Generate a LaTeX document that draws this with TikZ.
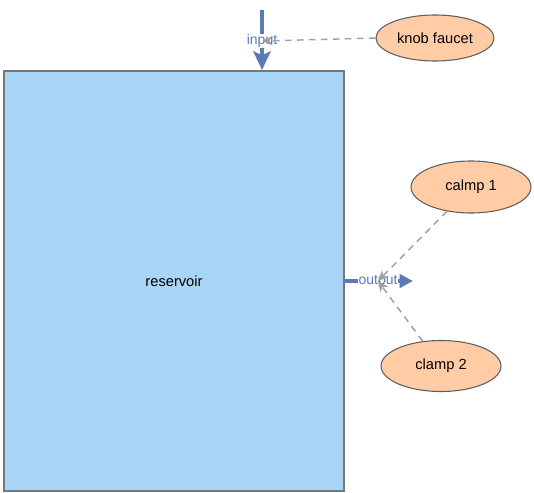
\documentclass[tikz,border=0pt]{standalone}
\usepackage{fontspec}
\setmainfont{Liberation Sans}
\usetikzlibrary{shapes.geometric,arrows.meta}
\definecolor{resfill}{HTML}{A8D4F5}
\definecolor{edgegray}{HTML}{777777}
\definecolor{portblue}{HTML}{5A7AB8}
\definecolor{peach}{HTML}{FFCCA6}
\definecolor{dashgray}{HTML}{A0A0A0}
\tikzset{
  tank/.style={draw=edgegray,line width=1.5pt,fill=resfill,inner sep=0pt},
  actor/.style={ellipse,draw=edgegray!80!black,line width=0.8pt,fill=peach,inner sep=0pt,font=\fontsize{11}{13}\selectfont},
  port/.style={text=portblue,font=\fontsize{10.5}{12}\selectfont,inner sep=0.5pt},
  flow/.style={draw=portblue,line width=3pt,-{Stealth[length=14pt,width=13pt,inset=3pt]}},
  ctrl/.style={draw=dashgray,line width=1.1pt,dash pattern=on 5pt off 4pt,-{Stealth[length=8pt,width=7pt]}},
}
\begin{document}
\begin{tikzpicture}[x=0.75pt,y=-0.75pt]
\useasboundingbox (0,0) rectangle (534,492);
\node[tank,minimum width=340*0.75pt,minimum height=420*0.75pt,anchor=north west,font=\fontsize{11}{13}\selectfont] (res) at (3,70) {reservoir};
\coordinate (inTop) at (262,10);
\coordinate (inBot) at (262,70);
\coordinate (outL) at (343,281);
\coordinate (outR) at (413,281);
\draw[flow] (inTop) -- (inBot);
\draw[flow,-{Triangle[length=10pt,width=10pt]}] (outL) -- (outR);
\node[port,fill=white] (in) at (262,41) {input};
\node[port,fill=white] (out) at (378,281) {output};
\node[actor,minimum width=118*0.75pt,minimum height=46*0.75pt] (knob) at (435,38) {knob faucet};
\node[actor,minimum width=120*0.75pt,minimum height=52*0.75pt] (c1) at (471,187) {calmp 1};
\node[actor,minimum width=120*0.75pt,minimum height=51*0.75pt] (c2) at (441,366) {clamp 2};
\draw[ctrl] (knob.west) -- (in.center);
\draw[ctrl] (c1) -- (out.center);
\draw[ctrl] (c2) -- (out.center);
\end{tikzpicture}
\end{document}
